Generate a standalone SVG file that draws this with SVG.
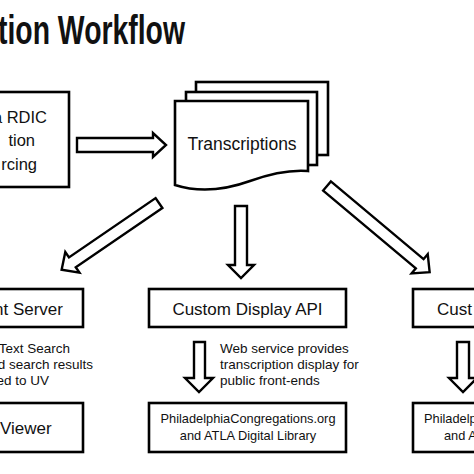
<svg xmlns="http://www.w3.org/2000/svg" width="474" height="474" viewBox="0 0 474 474">
<style>
.box{fill:#fff;stroke:#000;stroke-width:2.6}
.arr{fill:#fff;stroke:#000;stroke-width:2.4;stroke-linejoin:miter}
.t{font-family:"Liberation Sans",Arial,sans-serif;fill:#111}
.title{font-family:"Liberation Sans",Arial,sans-serif;font-weight:bold;fill:#111}
</style>
<rect width="474" height="474" fill="#fff"/>
<text class="title" x="-2" y="44" font-size="40" textLength="187" lengthAdjust="spacingAndGlyphs">tion Workflow</text>

<g id="source">
<rect class="box" x="-10" y="92" width="79" height="95"/>
<text class="t" font-size="16.5" text-anchor="end"><tspan x="47" y="123">a RDIC</tspan><tspan x="35" y="146">tion</tspan><tspan x="37" y="170">rcing</tspan></text>
</g>

<g id="transcriptions">
<rect class="box" x="196" y="82" width="132" height="73"/>
<rect class="box" x="186" y="92" width="131" height="73"/>
<path class="box" d="M175,101 H308 V171 C295,170 275,172 250,181 C225,190 200,193 175,185 Z"/>
<text class="t" x="242" y="150" font-size="17.5" text-anchor="middle">Transcriptions</text>
</g>

<g id="content-server">
<rect class="box" x="-10" y="289" width="93" height="38"/>
<text class="t" x="63" y="315" font-size="17" text-anchor="end">nt Server</text>
</g>
<g id="display-api">
<rect class="box" x="149" y="289" width="197" height="38"/>
<text class="t" x="247.5" y="315" font-size="17" text-anchor="middle">Custom Display API</text>
</g>
<g id="custom-right">
<rect class="box" x="413" y="289" width="80" height="38"/>
<text class="t" x="437" y="315" font-size="17">Cust</text>
</g>

<g id="search-note">
<text class="t" font-size="13.5" text-anchor="end"><tspan x="70" y="353">l Text Search</tspan><tspan x="93" y="369">ard search results</tspan><tspan x="49" y="385">ed to UV</tspan></text>
</g>
<g id="api-note">
<text class="t" font-size="13.5"><tspan x="220" y="353">Web service provides</tspan><tspan x="220" y="369">transcription display for</tspan><tspan x="220" y="385">public front-ends</tspan></text>
</g>

<g id="viewer">
<rect class="box" x="-10" y="403" width="93" height="49"/>
<text class="t" x="0" y="434" font-size="17">Viewer</text>
</g>
<g id="sites-mid">
<rect class="box" x="149" y="403" width="197" height="49"/>
<text class="t" font-size="12.8" text-anchor="middle"><tspan x="248" y="423">PhiladelphiaCongregations.org</tspan><tspan x="248" y="440">and ATLA Digital Library</tspan></text>
</g>
<g id="sites-right">
<rect class="box" x="413" y="403" width="80" height="49"/>
<text class="t" font-size="12.8"><tspan x="424" y="423">Philadelp</tspan><tspan x="444" y="440">and A</tspan></text>
</g>

<g id="connectors">
<path class="arr" d="M77,138 H153 V133 L166,145 L153,157 V152 H77 Z"/>
<path class="arr" d="M235,206 V265 H228 L241,278 L254,265 H247 V206 Z"/>
<path class="arr" transform="translate(159,203) rotate(145.6)" d="M0,-6 H105 V-12.5 L118,0 L105,12.5 V6 H0 Z"/>
<path class="arr" transform="translate(327,186) rotate(40)" d="M0,-6 H121 V-12.5 L134,0 L121,12.5 V6 H0 Z"/>
<path class="arr" d="M194,342 V378 H185 L199,392 L213,378 H205 V342 Z"/>
<path class="arr" d="M457,342 V378 H449 L463,392 L477,378 H469 V342 Z"/>
</g>
</svg>
